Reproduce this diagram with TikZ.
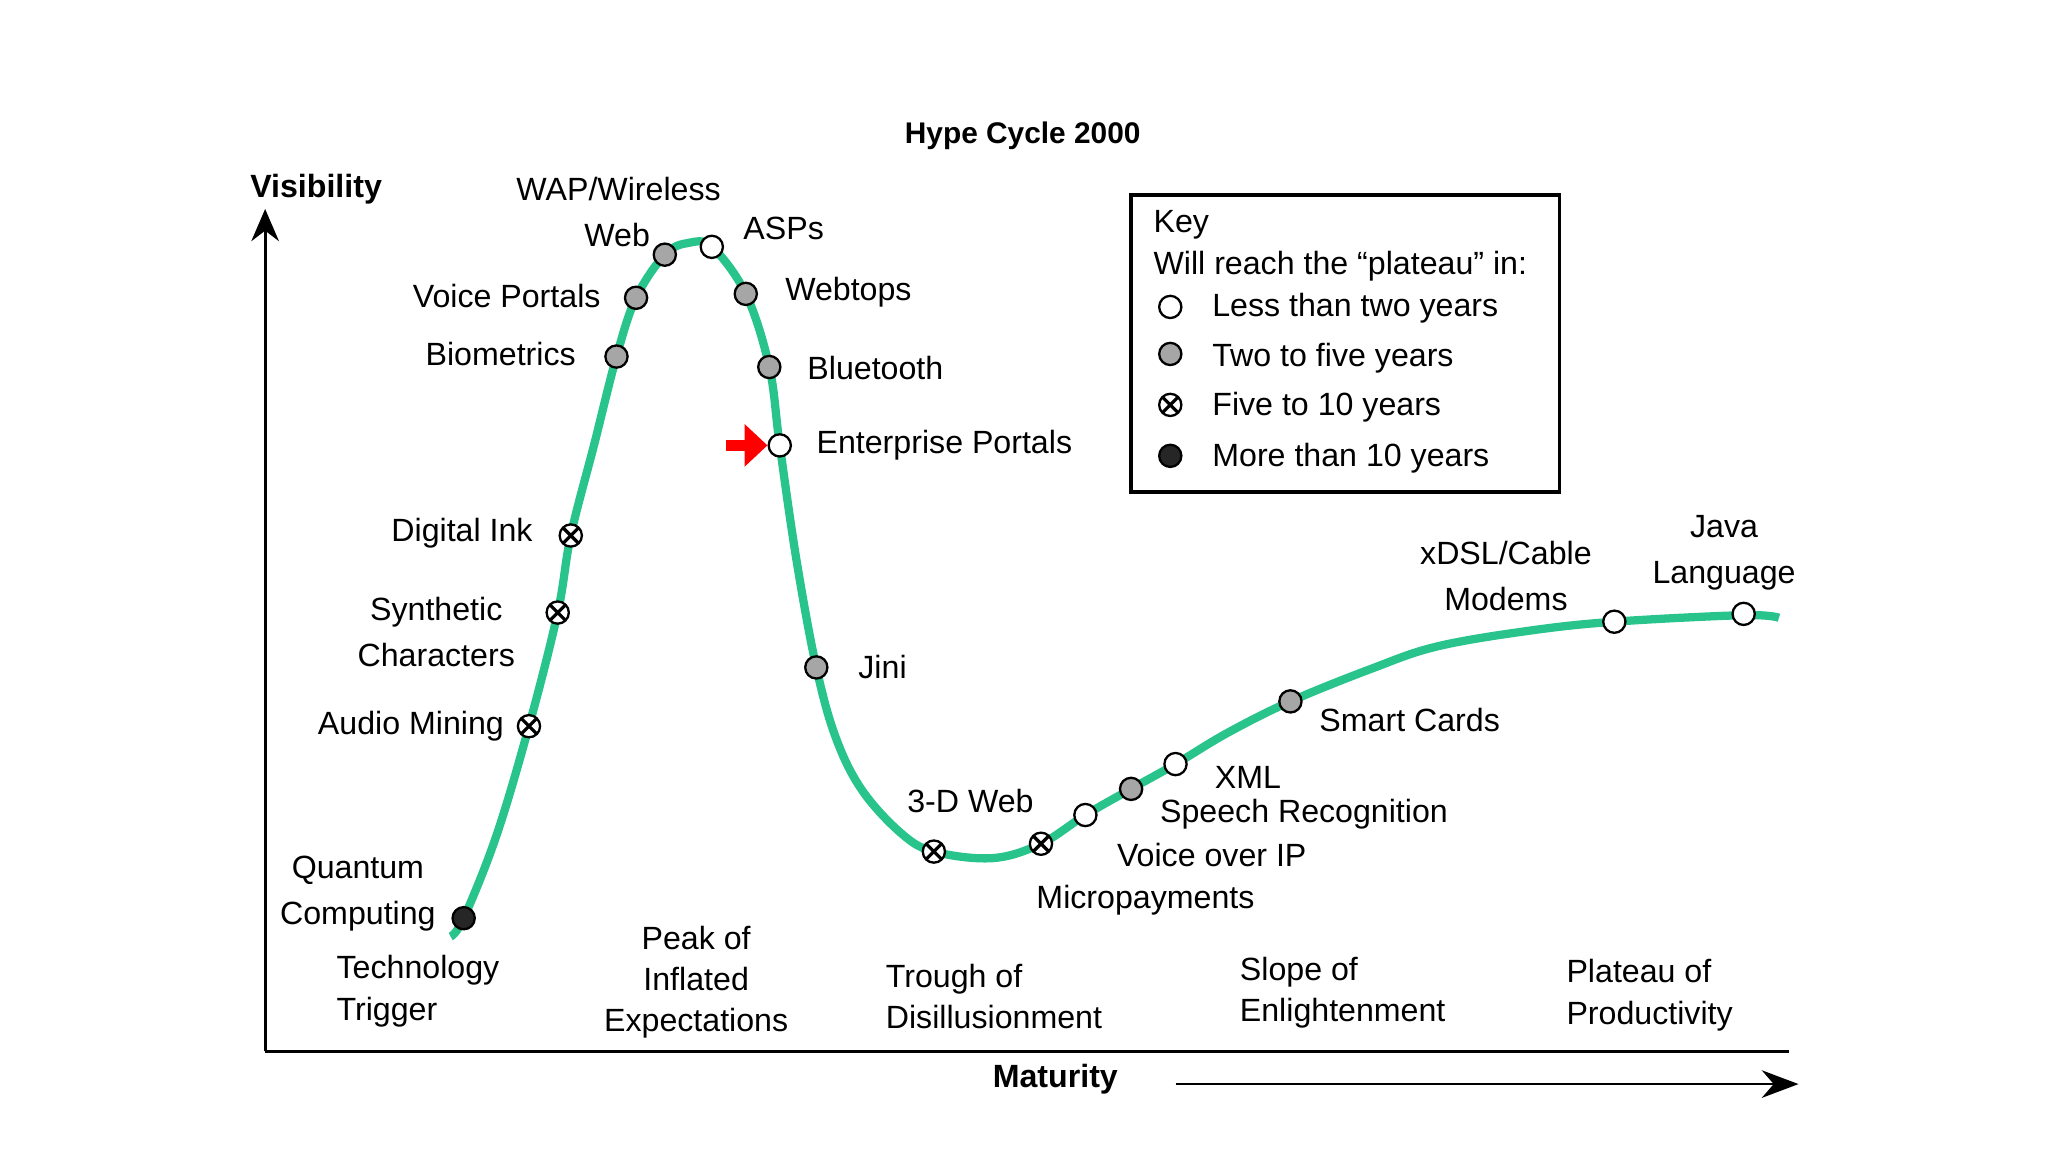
\documentclass[tikz,border=0pt]{standalone}
\usepackage{fontspec}
\setmainfont{Liberation Sans}
\usetikzlibrary{arrows.meta}
\definecolor{hype}{RGB}{40,196,140}
\begin{document}
\begin{tikzpicture}[x=0.01cm,y=-0.01cm,font=\fontsize{7}{8}\selectfont,
  lbl/.style={inner sep=1pt,align=center},
  mwhite/.style={circle,draw,fill=white,minimum size=0.17cm,inner sep=0pt,line width=0.5pt},
  mgray/.style={circle,draw,fill=gray!70,minimum size=0.17cm,inner sep=0pt,line width=0.5pt},
  mblack/.style={circle,draw,fill=black!85,minimum size=0.17cm,inner sep=0pt,line width=0.5pt},
  mx/.style={circle,draw,fill=white,minimum size=0.17cm,inner sep=0pt,line width=0.5pt,
     path picture={\draw[line width=0.7pt] (path picture bounding box.north west)--(path picture bounding box.south east)
       (path picture bounding box.north east)--(path picture bounding box.south west);}}]
\useasboundingbox (0,0) rectangle (1568,882);
% axes
\coordinate (o) at (203,805); \coordinate (ytop) at (203,160); \coordinate (xend) at (1370,805);
\draw[line width=0.6pt,-{Stealth[length=7pt,width=6pt]}] (o)--(ytop);
\draw[line width=0.6pt] (o)--(xend);
\coordinate (m1) at (900,830); \coordinate (m2) at (1377,830);
\draw[line width=0.6pt,-{Stealth[length=8pt,width=6pt]}] (m1)--(m2);
\node[font=\fontsize{7}{8}\selectfont\bfseries] (vis) at (242,145) {Visibility};
\node[font=\fontsize{7}{8}\selectfont\bfseries] (mat) at (808,826) {Maturity};
\node[font=\fontsize{6.5}{8}\selectfont\bfseries] (title) at (783,104) {Hype Cycle 2000};
% curve
\draw[hype,line width=1.8pt] plot[smooth,tension=0.6] coordinates {(345,717) (355,703) (380,640) (405,556) (427,469) (437,410) (455,340) (472,273) (487,228) (509,195) (527,186) (545,189) (571,225) (589,281) (597,341) (610,430) (625,511) (640,565) (660,605) (690,638) (715,652) (760,657) (797,646) (831,624) (866,604) (900,585) (940,561) (988,537) (1050,512) (1100,495) (1170,483) (1236,476) (1335,471) (1362,473)};
% markers
\node[mblack] (qc) at (355,703) {};
\node[mx] (am) at (405,556) {};
\node[mx] (sc) at (427,469) {};
\node[mx] (di) at (437,410) {};
\node[mgray] (bio) at (472,273) {};
\node[mgray] (vp) at (487,228) {};
\node[mgray] (wap) at (509,195) {};
\node[mwhite] (asp) at (545,189) {};
\node[mgray] (wt) at (571,225) {};
\node[mgray] (bt) at (589,281) {};
\node[mwhite] (ep) at (597,341) {};
\node[mgray] (jini) at (625,511) {};
\node[mx] (web3) at (715,652) {};
\node[mx] (voip) at (797,646) {};
\node[mwhite] (micro) at (831,624) {};
\node[mgray] (speech) at (866,604) {};
\node[mwhite] (xml) at (900,585) {};
\node[mgray] (smart) at (988,537) {};
\node[mwhite] (xdsl) at (1236,476) {};
\node[mwhite] (java) at (1335,470) {};
% labels
\node[lbl] (lqc) at (274,684) {Quantum\\[2pt]Computing};
\node[lbl,anchor=east] (lam) at (390,556) {Audio Mining};
\node[lbl] (lsc) at (334,484) {Synthetic\\[2pt]Characters};
\node[lbl,anchor=east] (ldi) at (412,408) {Digital Ink};
\node[lbl,anchor=east] (lbio) at (445,271) {Biometrics};
\node[lbl,anchor=east] (lvp) at (464,227) {Voice Portals};
\node[lbl,anchor=east,align=right] (lwap) at (556,162) {WAP/Wireless\\[2pt]Web\hspace*{2.2em}};
\node[lbl,anchor=west] (lasp) at (565,175) {ASPs};
\node[lbl,anchor=west] (lwt) at (597,224) {Webtops};
\node[lbl,anchor=west] (lbt) at (614,282) {Bluetooth};
\node[lbl,anchor=west] (lep) at (621,341) {Enterprise Portals};
\node[lbl,anchor=west] (ljini) at (653,511) {Jini};
\node[lbl] (lweb3) at (743,613) {3-D Web};
\node[lbl,anchor=west] (lvoip) at (851,655) {Voice over IP};
\node[lbl] (lmicro) at (877,689) {Micropayments};
\node[lbl,anchor=west] (lspeech) at (884,623) {Speech Recognition};
\node[lbl,anchor=west] (lxml) at (926,595) {XML};
\node[lbl,anchor=west] (lsmart) at (1006,551) {Smart Cards};
\node[lbl] (lxdsl) at (1153,441) {xDSL/Cable\\[2pt]Modems};
\node[lbl] (ljava) at (1320,423) {Java\\[2pt]Language};
% phases
\node[lbl,align=left] (p1) at (320,759) {Technology\\[1pt]Trigger\hspace*{1.7em}};
\node[lbl] (p2) at (533,752) {Peak of\\[1pt]Inflated\\[1pt]Expectations};
\node[lbl,align=left] (p3) at (761,763) {Trough of\\[1pt]Disillusionment};
\node[lbl,align=left] (p4) at (1028,760) {Slope of\\[1pt]Enlightenment};
\node[lbl,align=left] (p5) at (1263,762) {Plateau of\\[1pt]Productivity};
% red arrow
\coordinate (ra) at (556,341);
\draw[red,line width=2.5pt,-{Triangle[length=5pt,width=9pt]}] (ra)--(ep.west);
% key
\node[draw,line width=0.8pt,minimum width=3.28cm,minimum height=2.27cm] (key) at (1030,263) {};
\node[lbl,anchor=west] (k1) at (879,172) {Key};
\node[lbl,anchor=west] (k2) at (879,204) {Will reach the “plateau” in:};
\node[mwhite] (kw) at (896,235) {};
\node[lbl,anchor=west] (kwl) at (924,236) {Less than two years};
\node[mgray] (kg) at (896,271) {};
\node[lbl,anchor=west] (kgl) at (924,274) {Two to five years};
\node[mx] (kx) at (896,310) {};
\node[lbl,anchor=west] (kxl) at (924,312) {Five to 10 years};
\node[mblack] (kb) at (896,349) {};
\node[lbl,anchor=west] (kbl) at (924,351) {More than 10 years};
\end{tikzpicture}
\end{document}
